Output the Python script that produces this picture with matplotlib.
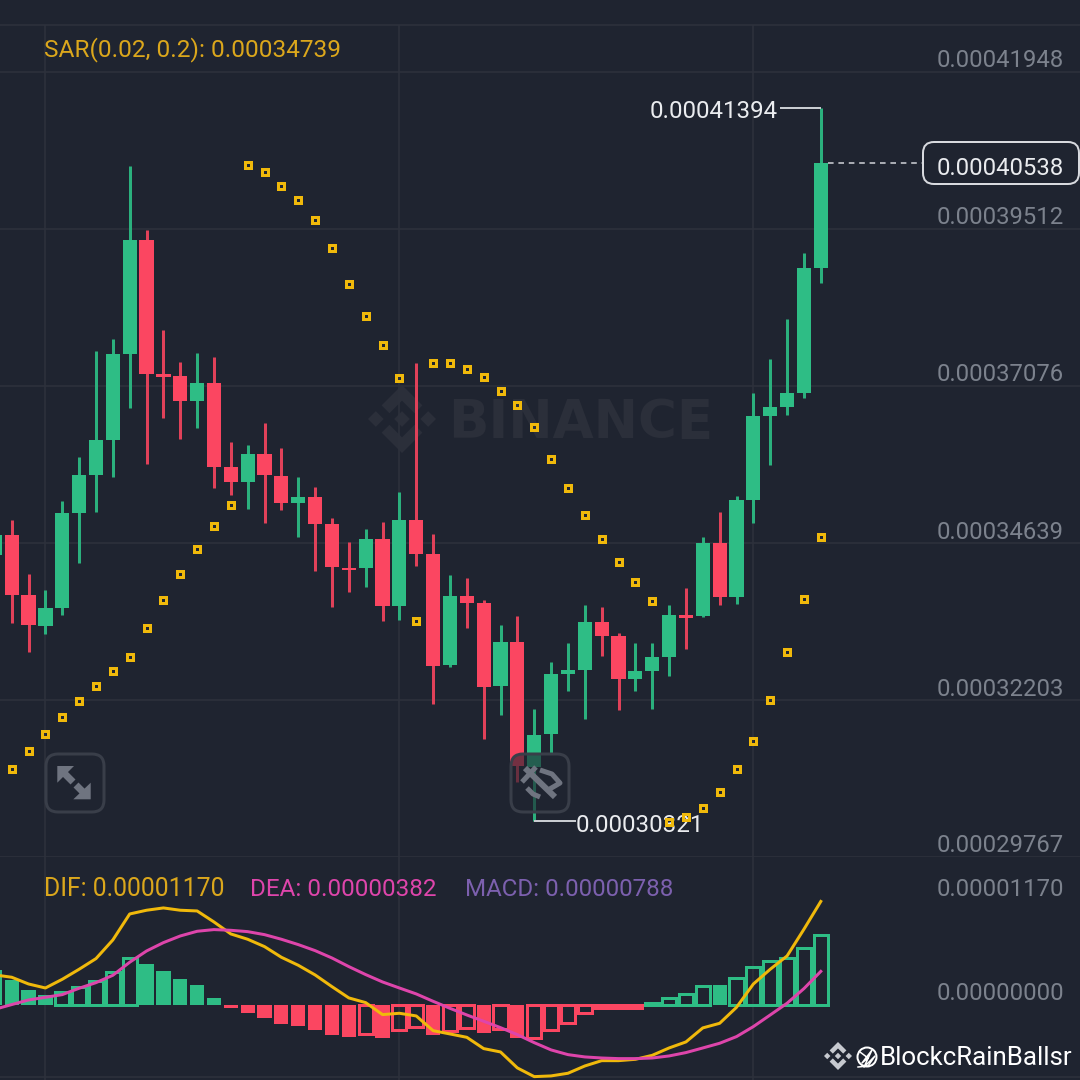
import numpy as np
import matplotlib
matplotlib.use("Agg")
import matplotlib.pyplot as plt
from matplotlib.patches import FancyBboxPatch, Polygon, Circle

# Candles, in units of 1e-8
opens = [34458, 34759, 33828, 33357, 33627, 35110, 35695, 36243, 37572, 39337,
         37258, 37227, 36848, 37122, 35819, 35586, 36016, 35684, 35256, 35354,
         34930, 34257, 34247, 34697, 33667, 35001, 34469, 32742, 33822, 33709,
         32416, 33099, 31164, 31672, 32603, 32665, 33414, 33197, 32530, 32654,
         32866, 33523, 33512, 34640, 33807, 35312, 36606, 36745, 36963, 38902]
closes = [34764, 33833, 33363, 33627, 35110, 35695, 36243, 37572, 39337, 37258,
          37216, 36843, 37122, 35819, 35586, 36016, 35690, 35256, 35354, 34930,
          34268, 34221, 34697, 33667, 35001, 34474, 32736, 33822, 33714, 32401,
          33099, 31180, 31661, 32603, 32665, 33414, 33197, 32530, 32654, 32866,
          33523, 33481, 34640, 33807, 35312, 36610, 36745, 36963, 38902, 40538]
highs = [34842, 34992, 34159, 33906, 35287, 35974, 37619, 37801, 40494, 39496,
         37940, 37448, 37588, 37521, 36212, 36156, 36497, 36114, 35669, 35513,
         35023, 34651, 34852, 34961, 35427, 37437, 34775, 34144, 34092, 33756,
         33368, 33507, 32060, 32789, 33093, 33678, 33647, 33239, 33084, 33084,
         33673, 33942, 34733, 35121, 35369, 36967, 37495, 38116, 39135, 41394]
lows = [34376, 33394, 32953, 33233, 33523, 34330, 35121, 35659, 36739, 35870,
        36575, 36254, 36429, 35498, 35389, 35172, 34946, 35152, 34738, 34210,
        33652, 33875, 33962, 33425, 33450, 34288, 32137, 32711, 33326, 31604,
        31976, 30936, 30321, 31377, 32339, 31909, 32891, 32044, 32344, 32064,
        32581, 32995, 33496, 33678, 33693, 34950, 35850, 36631, 36894, 38670]

# Parabolic SAR, first candle is off the left edge
sar = [np.nan, 31138, 31417, 31681, 31940, 32188, 32421, 32649, 32866, 33326,
       33751, 34159, 34542, 34899, 35234, 40500, 40392, 40175, 39962, 39652,
       39217, 38659, 38157, 37708, 37196, 33425, 37437, 37437, 37335, 37220,
       37003, 36786, 36435, 35948, 35498, 35079, 34697, 34350, 34030, 33735,
       30316, 30389, 30533, 30781, 31133, 31560, 32204, 32949, 33776, 34738]

# MACD pane
hist = [398, 286, 173, 113, 148, 208, 269, 374, 532, 466,
        391, 293, 225, 83, -34, -86, -143, -207, -233, -278,
        -331, -361, -321, -364, -276, -246, -334, -291, -261, -316,
        -269, -372, -366, -284, -205, -92, -30, -30, -30, 28,
        81, 126, 220, 225, 306, 434, 501, 532, 644, 788]
hist_hollow = [4, 5, 6, 7, 8, 22, 24, 25, 27, 28, 30, 32, 33, 34, 35, 36, 37, 38,
               39, 40, 41, 42, 44, 45, 46, 47, 48, 49]
dif = [342, 316, 240, 195, 293, 406, 526, 736, 1029, 1071,
       1097, 1071, 1063, 939, 804, 744, 661, 541, 451, 342,
       210, 83, 30, -105, -90, -120, -286, -323, -361, -488,
       -526, -706, -804, -796, -766, -684, -624, -624, -609, -564,
       -481, -413, -255, -203, -23, 240, 406, 556, 857, 1170]
dea = [-45, 8, 60, 90, 120, 192, 255, 338, 485, 612,
       706, 781, 834, 853, 845, 830, 796, 744, 684, 616,
       533, 436, 346, 263, 195, 128, 45, -34, -109, -180,
       -252, -331, -421, -503, -556, -582, -594, -601, -601, -594,
       -571, -533, -481, -428, -353, -240, -109, 23, 188, 382]

price_ticks = [41948, 39512, 37076, 34639, 32203, 29767]
macd_ticks = [1170, 0]
time_ticks = [3, 24, 45]

bg = "#1f2430"
grid_col = "#2d313c"
green = "#2ebd85"
red = "#fb4661"
green_wick = "#2bb07d"
red_wick = "#e04159"
yellow = "#f0b90b"
label_col = "#dba71c"
pink = "#de45ab"
purple = "#7c60ae"
gray = "#7c828d"
white = "#eaecef"
font = "Roboto"
val_size = 17.35
tick_size = 17.2

plt.rcParams["font.family"] = [font, "DejaVu Sans"]


def px(n):
    # pixels to points at dpi 100
    return n * 0.72


def binance_logo(ax, cx, cy, r, color):
    top = [(0, 1), (0.6, 0.4), (0.37, 0.17), (0, 0.54), (-0.37, 0.17), (-0.6, 0.4)]
    bottom = [(x, -y) for x, y in top]
    for shape in (top, bottom):
        ax.add_patch(Polygon([(cx + x * r, cy - y * r) for x, y in shape], fc=color, ec="none"))
    for dx in (-0.77, 0, 0.77):
        d = 0.23
        ax.add_patch(Polygon([(cx + (dx - d) * r, cy), (cx + dx * r, cy - d * r),
                              (cx + (dx + d) * r, cy), (cx + dx * r, cy + d * r)],
                             fc=color, ec="none"))


fig = plt.figure(figsize=(10.8, 10.8), dpi=100, facecolor=bg)

# Layers, all in pixel positions of the 1080 picture
ax_bg = fig.add_axes([0, 0, 1, 1], zorder=0)
ax_bg.set_xlim(0, 1080)
ax_bg.set_ylim(1080, 0)
ax_bg.axis("off")
ax_bg.set_facecolor(bg)

ax = fig.add_axes([0, (1080 - 857) / 1080, 1, (857 - 25) / 1080], zorder=1)
ax_macd = fig.add_axes([0, 0, 1, (1080 - 857) / 1080], zorder=1)
ax_top = fig.add_axes([0, 0, 1, 1], zorder=5)
ax_top.set_xlim(0, 1080)
ax_top.set_ylim(1080, 0)
ax_top.axis("off")
ax_top.patch.set_alpha(0)

xs = np.arange(len(opens))
bar_w = 14.2 / 16.856

for a in (ax, ax_macd):
    a.patch.set_alpha(0)
    a.set_xlim(0.306, 64.378)
    a.set_xticks(time_ticks)
    a.grid(True, color=grid_col, lw=1.2)
    a.set_axisbelow(True)
    a.tick_params(length=0, labelbottom=False, labelleft=False)
    for s in a.spines.values():
        s.set_visible(False)

# Price pane
ax.set_ylim(29768, 42677)
ax.set_yticks(price_ticks)
ax.spines["top"].set_visible(True)
ax.spines["top"].set_color(grid_col)
ax.spines["top"].set_linewidth(1.2)

colors = [green if c >= o else red for o, c in zip(opens, closes)]
wick_colors = [green_wick if c >= o else red_wick for o, c in zip(opens, closes)]
ax.vlines(xs, lows, highs, colors=wick_colors, lw=px(3), zorder=2, capstyle="butt")
bottoms = np.minimum(opens, closes)
heights = np.abs(np.array(closes) - np.array(opens))
ax.bar(xs, heights, bottom=bottoms, width=bar_w, color=colors, zorder=3)

for t in price_ticks:
    ax.annotate(f"{t * 1e-8:.8f}", xy=(1, t), xycoords=("axes fraction", "data"),
                xytext=(-16, 11), textcoords="offset pixels", ha="right", va="center",
                color=gray, fontsize=tick_size)

# Highest / lowest labels
i_hi = int(np.argmax(highs))
i_lo = int(np.argmin(lows))
ax.hlines(highs[i_hi], 46.6, i_hi, colors="#c9ccd1", lw=px(2), zorder=4)
ax.annotate(f"{highs[i_hi] * 1e-8:.8f}", xy=(46.6, highs[i_hi]), xytext=(-3, -4),
            textcoords="offset pixels", ha="right", va="center", color=white, fontsize=val_size, zorder=4)
ax.hlines(lows[i_lo], i_lo, 34.48, colors="#c9ccd1", lw=px(2), zorder=4)
ax.annotate(f"{lows[i_lo] * 1e-8:.8f}", xy=(34.48, lows[i_lo]), xytext=(0, -4),
            textcoords="offset pixels", ha="left", va="center", color=white, fontsize=val_size, zorder=4)

# Last price
ax.hlines(closes[-1], i_hi + 0.42, 55.0, colors="#c9ccd1", lw=px(1.6),
          linestyles=(0, (3.5, 3)), zorder=4)
ax.annotate(f"{closes[-1] * 1e-8:.8f}", xy=(1, closes[-1]), xycoords=("axes fraction", "data"),
            xytext=(-16, -6), textcoords="offset pixels", ha="right", va="center",
            color=white, fontsize=tick_size, zorder=6)

# SAR dots, hollow so the low label shows through
ax.plot(xs, sar, ls="none", marker="s", ms=px(5.4), mfc="none", mec=yellow, mew=px(3), zorder=5)

# MACD pane
ax_macd.set_ylim(-842, 1671)
ax_macd.set_yticks([-808])
for t in macd_ticks:
    ax_macd.annotate(f"{t * 1e-8:.8f}", xy=(1, t), xycoords=("axes fraction", "data"),
                     xytext=(-16, 12), textcoords="offset pixels", ha="right", va="center",
                     color=gray, fontsize=tick_size)

for i, v in enumerate(hist):
    c = green if v >= 0 else red
    if i in hist_hollow:
        ax_macd.bar(i, v, width=bar_w, fc="none", ec=c, lw=px(3), zorder=2)
    else:
        ax_macd.bar(i, v, width=bar_w, color=c, zorder=2)
ax_macd.plot(xs, dif, color=yellow, lw=px(3), zorder=3, solid_joinstyle="round")
ax_macd.plot(xs, dea, color=pink, lw=px(3), zorder=4, solid_joinstyle="round")

# Legends
ax_top.text(44, 50, "SAR(0.02, 0.2): 0.00034739", color=label_col, fontsize=17.6, va="center")
ax_top.text(44, 889, "DIF: 0.00001170", color=label_col, fontsize=17.85, va="center")
ax_top.text(250, 889, "DEA: 0.00000382", color=pink, fontsize=17.5, va="center")
ax_top.text(465, 889, "MACD: 0.00000788", color=purple, fontsize=17.4, va="center")

# Watermark behind the candles
binance_logo(ax_bg, 402, 419, 34, "#2b2f3a")
ax_bg.text(448, 423, "BINANCE", color="#2b2f3a", fontsize=38.2, fontweight="bold", va="center",
           family="DejaVu Sans")

# Last price box
ax_top.add_patch(FancyBboxPatch((934, 153), 134, 20, boxstyle="round,pad=11,rounding_size=11",
                                fc="none", ec="#d8dadf", lw=px(2)))

# Buttons
for x0, y0 in ((46, 754), (511, 754)):
    ax_top.add_patch(FancyBboxPatch((x0 + 12, y0 + 12), 34, 34, boxstyle="round,pad=12,rounding_size=12",
                                    fc=bg, ec="none", alpha=0.62))
    ax_top.add_patch(FancyBboxPatch((x0 + 12, y0 + 12), 34, 34, boxstyle="round,pad=12,rounding_size=12",
                                    fc="none", ec="#393e49", lw=px(3)))

icon = "#6f7480"
ax_top.add_patch(Polygon([(57.3, 766), (74, 766), (57.3, 782.7)], fc=icon, ec="none"))
ax_top.add_patch(Polygon([(90.7, 799.3), (73.3, 799.3), (90.7, 782.7)], fc=icon, ec="none"))
ax_top.plot([62, 73], [771, 782], color=icon, lw=px(7), solid_capstyle="butt")
ax_top.plot([76, 86], [785, 795], color=icon, lw=px(7), solid_capstyle="butt")

ax_top.plot([525, 555], [768, 797], color=icon, lw=px(6), solid_capstyle="butt")
ax_top.plot([522, 536], [782, 767], color=icon, lw=px(5), solid_capstyle="butt")
ax_top.plot([540, 552, 560, 548], [770, 774, 783, 790], color=icon, lw=px(5), solid_capstyle="butt")
ax_top.plot([527, 533, 540], [788, 794, 797], color=icon, lw=px(5), solid_capstyle="butt")

# Bottom right mark
binance_logo(ax_top, 838, 1056, 14, "#c6c9cf")
ax_top.add_patch(Circle((867, 1057), 9.5, fc="none", ec="white", lw=px(2)))
ax_top.plot([860, 868, 862, 872, 864, 875, 868, 858],
            [1052, 1058, 1063, 1050, 1067, 1056, 1066, 1067], color="white", lw=px(1.5))
ax_top.text(880, 1058, "BlockcRainBallsr", color="white", fontsize=18.6, va="center", zorder=9)

fig.savefig("out.png", dpi=100, facecolor=bg)
